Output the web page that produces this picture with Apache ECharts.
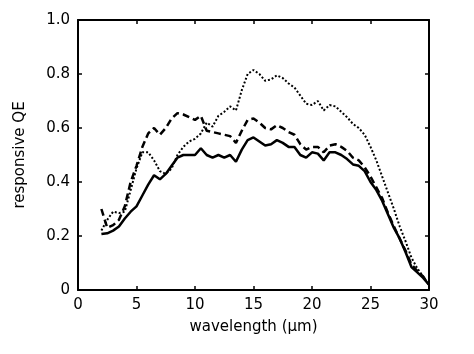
<!DOCTYPE html>
<html>
<head>
<meta charset="utf-8">
<script src="https://cdn.jsdelivr.net/npm/echarts@6/dist/echarts.min.js"></script>
<style>html,body{margin:0;padding:0;background:#fff}#c{width:474px;height:354px}</style>
</head>
<body>
<div id="c"></div>
<script>
var wavelength = [2,2.5,3,3.5,4,4.5,5,5.5,6,6.5,7,7.5,8,8.5,9,9.5,10,10.5,11,11.5,12,12.5,13,13.5,14,14.5,15,15.5,16,16.5,17,17.5,18,18.5,19,19.5,20,20.5,21,21.5,22,22.5,23,23.5,24,24.5,25,25.5,26,26.5,27,27.5,28,28.5,29,29.5,30];
var solidQE = [0.207,0.21,0.22,0.235,0.265,0.29,0.31,0.35,0.39,0.425,0.41,0.43,0.46,0.49,0.50,0.50,0.50,0.525,0.50,0.49,0.50,0.49,0.50,0.475,0.52,0.555,0.565,0.55,0.535,0.54,0.555,0.545,0.53,0.53,0.50,0.49,0.51,0.505,0.48,0.51,0.51,0.50,0.485,0.465,0.46,0.44,0.40,0.37,0.33,0.28,0.23,0.19,0.14,0.085,0.065,0.045,0.02];
var dashedQE = [0.30,0.23,0.24,0.26,0.31,0.40,0.46,0.53,0.58,0.60,0.575,0.60,0.635,0.655,0.65,0.64,0.63,0.645,0.59,0.585,0.58,0.575,0.57,0.545,0.59,0.63,0.635,0.62,0.60,0.595,0.61,0.60,0.585,0.575,0.54,0.52,0.53,0.53,0.51,0.535,0.54,0.53,0.515,0.49,0.48,0.455,0.42,0.38,0.34,0.285,0.235,0.19,0.145,0.095,0.07,0.05,0.02];
var dottedQE = [0.22,0.26,0.29,0.285,0.29,0.37,0.45,0.51,0.51,0.48,0.44,0.43,0.45,0.50,0.53,0.55,0.56,0.58,0.62,0.605,0.645,0.66,0.68,0.665,0.74,0.80,0.815,0.80,0.775,0.78,0.795,0.785,0.765,0.75,0.72,0.69,0.685,0.70,0.665,0.685,0.68,0.66,0.64,0.615,0.60,0.575,0.53,0.48,0.42,0.36,0.30,0.235,0.18,0.12,0.08,0.05,0.02];
var xTicks = [0,5,10,15,20,25,30];
var yTicks = [0,0.2,0.4,0.6,0.8,1.0];

function pairs(xs, ys){ return xs.map(function(x,i){ return [x, ys[i]]; }); }

var font = 'DejaVu Sans';
function axisCommon(){
  return {
    axisLine: {show: true, onZero: false, lineStyle: {color: '#000', width: 2}},
    axisTick: {show: true, inside: true, length: 4, lineStyle: {color: '#000', width: 1.5}},
    splitLine: {show: false}
  };
}
var chart = echarts.init(document.getElementById('c'), null, {renderer: 'canvas'});
chart.setOption({
  animation: false,
  backgroundColor: '#fff',
  textStyle: {fontFamily: font},
  grid: {left: 78, right: 45, top: 20, bottom: 64},
  xAxis: [
    Object.assign({type: 'value', min: xTicks[0], max: xTicks[xTicks.length-1], interval: 5, position: 'bottom',
      name: 'wavelength (\u03bcm)', nameLocation: 'middle', nameGap: 30,
      nameTextStyle: {fontFamily: font, fontSize: 15, color: '#000'},
      axisLabel: {fontFamily: font, fontSize: 15, color: '#000', margin: 8}}, axisCommon()),
    Object.assign({type: 'value', min: xTicks[0], max: xTicks[xTicks.length-1], interval: 5, position: 'top',
      axisLabel: {show: false}}, axisCommon())
  ],
  yAxis: [
    Object.assign({type: 'value', min: yTicks[0], max: yTicks[yTicks.length-1], interval: 0.2, position: 'left',
      name: 'responsive QE', nameLocation: 'middle', nameGap: 50, nameRotate: 90,
      nameTextStyle: {fontFamily: font, fontSize: 15, color: '#000'},
      axisLabel: {fontFamily: font, fontSize: 15, color: '#000', margin: 8,
        formatter: function(v){ return v === 0 ? '0' : v.toFixed(1); }}}, axisCommon()),
    Object.assign({type: 'value', min: yTicks[0], max: yTicks[yTicks.length-1], interval: 0.2, position: 'right',
      axisLabel: {show: false}}, axisCommon())
  ],
  series: [
    {type: 'line', data: pairs(wavelength, dottedQE), symbol: 'none', z: 2,
      lineStyle: {color: '#000', width: 2, type: [2, 2]}},
    {type: 'line', data: pairs(wavelength, dashedQE), symbol: 'none', z: 3,
      lineStyle: {color: '#000', width: 2.5, type: [7, 4]}},
    {type: 'line', data: pairs(wavelength, solidQE), symbol: 'none', z: 4,
      lineStyle: {color: '#000', width: 2.5}}
  ]
});
</script>
</body>
</html>
